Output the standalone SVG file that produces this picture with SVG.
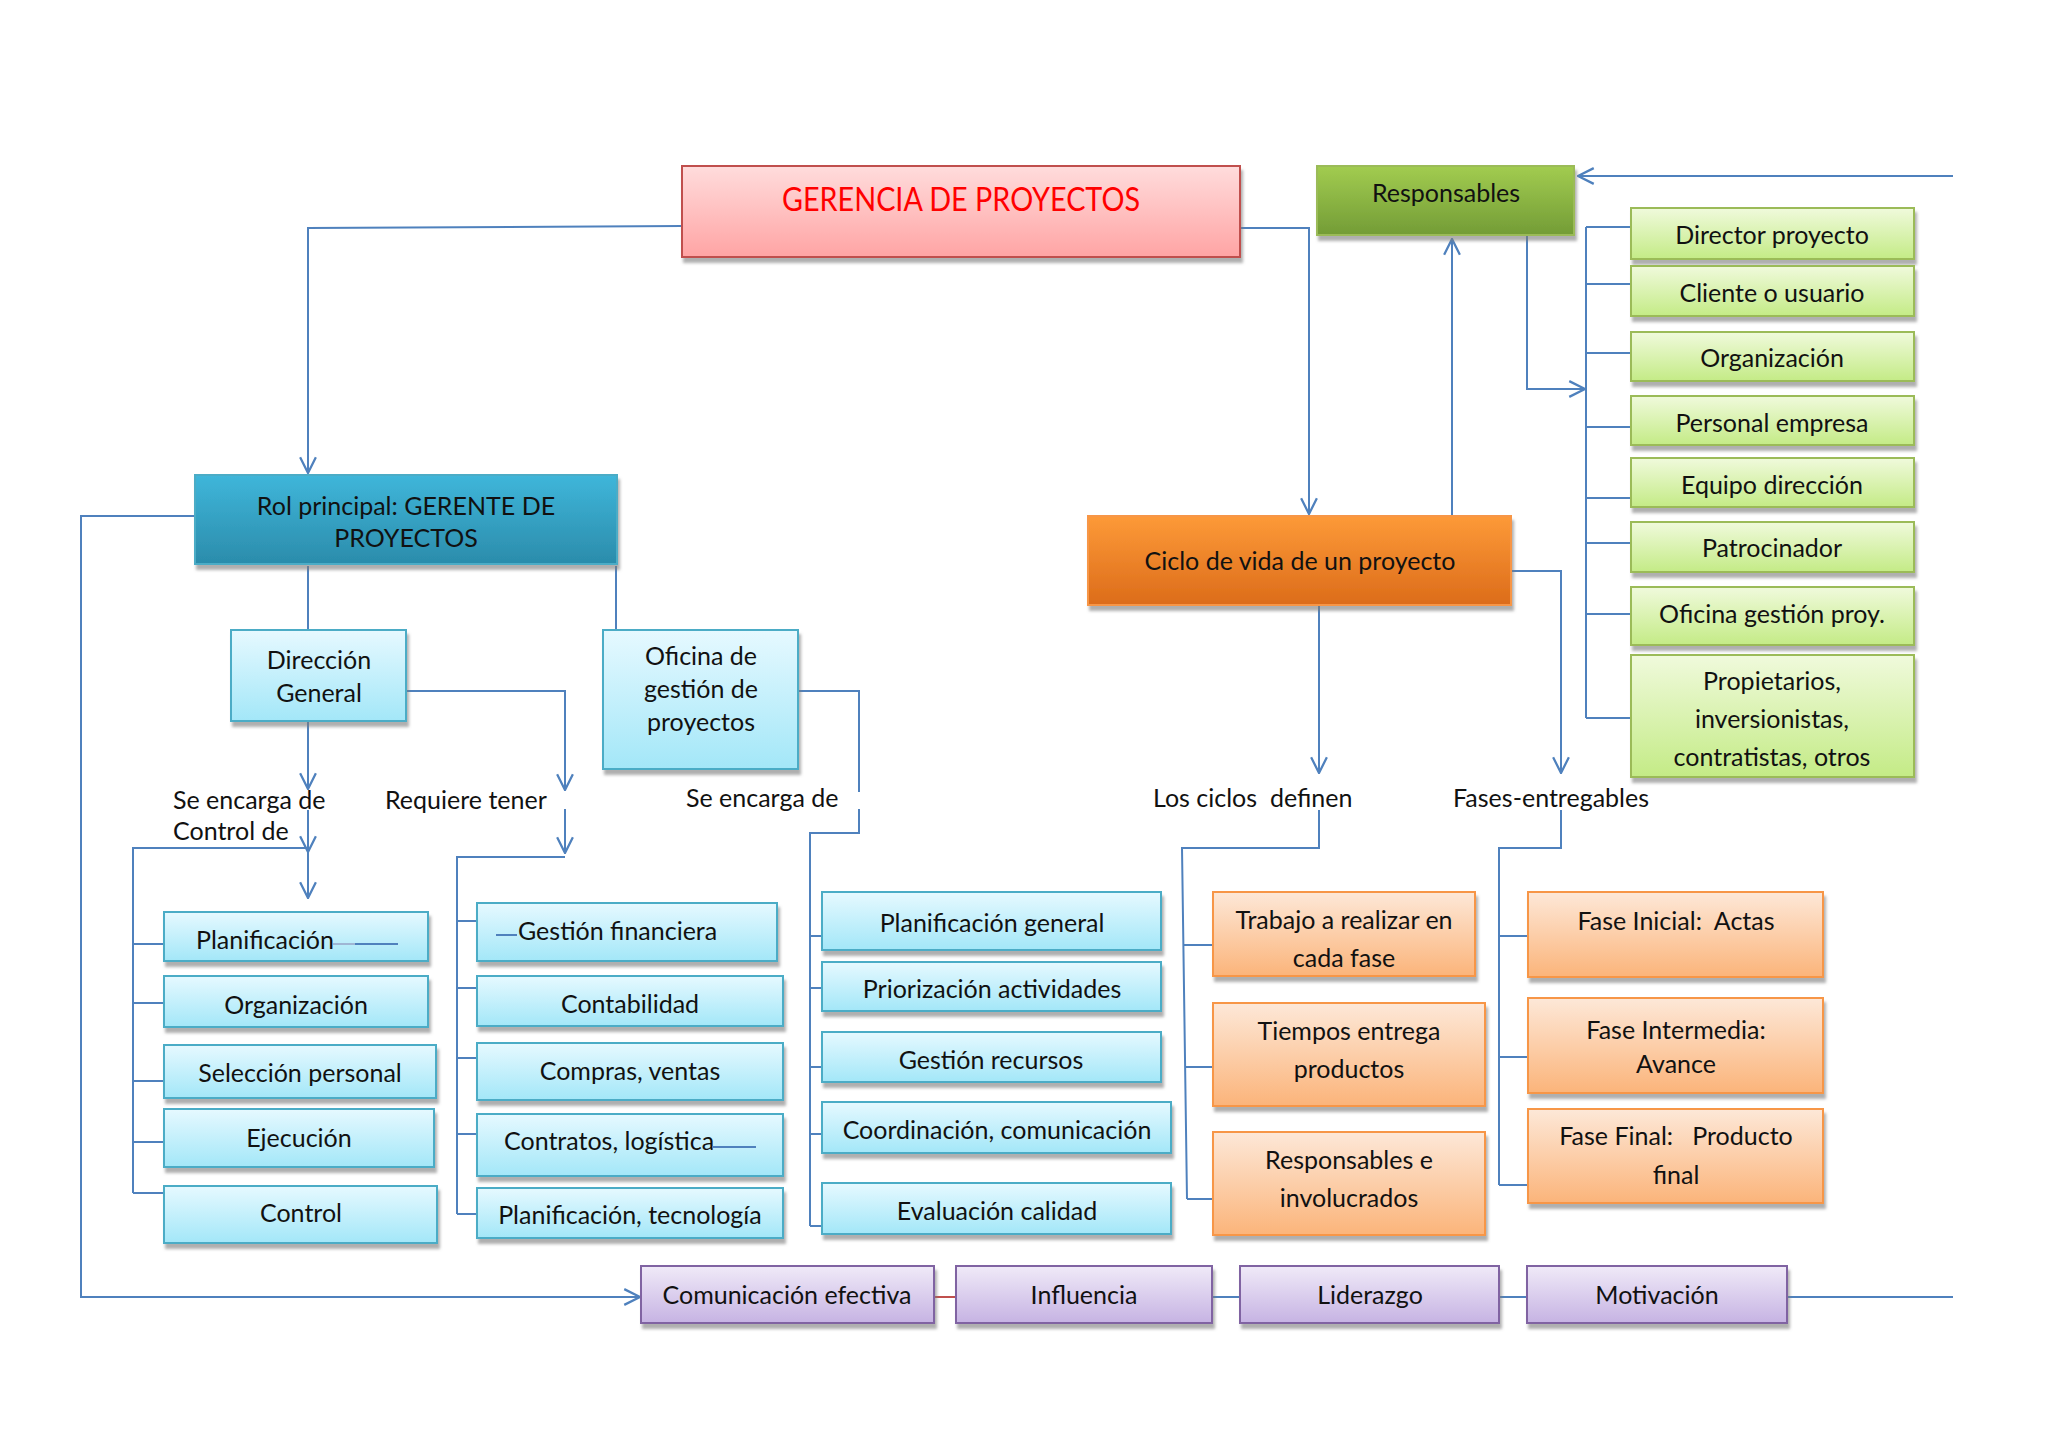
<svg xmlns="http://www.w3.org/2000/svg" width="2048" height="1448" viewBox="0 0 2048 1448">
<defs>
<linearGradient id="gPink" x1="0" y1="0" x2="0" y2="1"><stop offset="0" stop-color="#ffdcdc"/><stop offset="1" stop-color="#ffa4a4"/></linearGradient>
<linearGradient id="gTeal" x1="0" y1="0" x2="0" y2="1"><stop offset="0" stop-color="#3fb6da"/><stop offset="1" stop-color="#2b8cab"/></linearGradient>
<linearGradient id="gCyan" x1="0" y1="0" x2="0" y2="1"><stop offset="0" stop-color="#e6f9ff"/><stop offset="1" stop-color="#a3e7f8"/></linearGradient>
<linearGradient id="gGreenL" x1="0" y1="0" x2="0" y2="1"><stop offset="0" stop-color="#f0fadc"/><stop offset="1" stop-color="#c4eb86"/></linearGradient>
<linearGradient id="gGreenD" x1="0" y1="0" x2="0" y2="1"><stop offset="0" stop-color="#a2cc50"/><stop offset="1" stop-color="#739c36"/></linearGradient>
<linearGradient id="gOrangeD" x1="0" y1="0" x2="0" y2="1"><stop offset="0" stop-color="#fd9a38"/><stop offset="1" stop-color="#dc6c1a"/></linearGradient>
<linearGradient id="gOrangeL" x1="0" y1="0" x2="0" y2="1"><stop offset="0" stop-color="#fde8d8"/><stop offset="1" stop-color="#fbb47a"/></linearGradient>
<linearGradient id="gPurple" x1="0" y1="0" x2="0" y2="1"><stop offset="0" stop-color="#f0eaf8"/><stop offset="1" stop-color="#c6b3e3"/></linearGradient>
<filter id="sh" x="-5%" y="-10%" width="115%" height="140%"><feDropShadow dx="2" dy="5" stdDeviation="1.5" flood-color="#7a7a7a" flood-opacity="0.6"/></filter>
<marker id="ah" viewBox="0 0 16 16" refX="15" refY="8" markerWidth="18" markerHeight="18" markerUnits="userSpaceOnUse" orient="auto"><path d="M1,1 L15,8 L1,15" fill="none" stroke="#4f81bd" stroke-width="2"/></marker>
</defs>
<style>
text{font-family:Lato,"Open Sans","Liberation Sans",sans-serif;font-size:25px;fill:#111;text-anchor:middle;white-space:pre;transform:translateY(2px)}
.l{text-anchor:start}
rect{filter:url(#sh);stroke-width:2}
.pink{fill:url(#gPink);stroke:#c0504d}
.teal{fill:url(#gTeal);stroke:#4bacc6}
.cy{fill:url(#gCyan);stroke:#4bacc6}
.gl{fill:url(#gGreenL);stroke:#9bbb59}
.gd{fill:url(#gGreenD);stroke:#9bbb59}
.od{fill:url(#gOrangeD);stroke:#f79646}
.ol{fill:url(#gOrangeL);stroke:#f79646}
.pu{fill:url(#gPurple);stroke:#8064a2}
.c{fill:none;stroke:#4f81bd;stroke-width:2}
.a{marker-end:url(#ah)}
</style>
<rect width="2048" height="1448" fill="#ffffff" style="filter:none;stroke:none"/>

<g id="connectors">
<path class="c a" d="M682,226 L308,228 L308,473"/>
<path class="c a" d="M1240,228 L1309,228 L1309,514"/>
<path class="c a" d="M1953,176 L1578,176"/>
<path class="c a" d="M1527,235 L1527,389 L1585,389"/>
<path class="c a" d="M1452,516 L1452,239"/>
<path class="c" d="M1586,227 L1586,718"/>
<path class="c" d="M1586,227 H1631 M1586,284 H1631 M1586,353 H1631 M1586,427 H1631 M1586,498 H1631 M1586,543 H1631 M1586,614 H1631 M1586,718 H1631"/>
<path class="c a" d="M195,516 L81,516 L81,1297 L640,1297"/>
<path class="c" d="M308,566 L308,630 M616,566 L616,630"/>
<path class="c a" d="M308,721 L308,789"/>
<path class="c a" d="M308,810 L308,852"/>
<path class="c a" d="M308,852 L308,898"/>
<path class="c" d="M308,848 L133,848 L133,1193"/>
<path class="c" d="M133,944 H164 M133,1003 H164 M133,1081 H164 M133,1142 H164 M133,1193 H164"/>
<path class="c a" d="M406,691 L565,691 L565,790"/>
<path class="c a" d="M565,809 L565,853"/>
<path class="c" d="M565,857 L457,857 L457,1214"/>
<path class="c" d="M457,921 H477 M457,988 H477 M457,1058 H477 M457,1134 H477 M457,1214 H477"/>
<path class="c" d="M798,691 L859,691 L859,792"/>
<path class="c" d="M859,809 L859,833 L810,833 L810,1226"/>
<path class="c" d="M810,936 H822 M810,988 H822 M810,1067 H822 M810,1134 H822 M810,1226 H822"/>
<path class="c a" d="M1319,605 L1319,773"/>
<path class="c" d="M1319,810 L1319,848 L1182,848 L1187,1199"/>
<path class="c" d="M1183,945 H1213 M1185,1067 H1213 M1187,1199 H1213"/>
<path class="c a" d="M1511,571 L1561,571 L1561,773"/>
<path class="c" d="M1561,810 L1561,848 L1499,848 L1499,1185"/>
<path class="c" d="M1499,936 H1528 M1499,1057 H1528 M1499,1185 H1528"/>
<path d="M934,1297 H956" fill="none" stroke="#c0504d" stroke-width="2"/>
<path class="c" d="M1212,1297 H1240 M1499,1297 H1527 M1787,1297 H1953"/>
</g>

<g id="n-gerencia"><rect class="pink" x="682" y="166" width="558" height="91"/><text x="961" y="209" style="fill:#ff0000;font-size:33px" textLength="358" lengthAdjust="spacingAndGlyphs">GERENCIA DE PROYECTOS</text></g>
<g id="n-responsables"><rect class="gd" x="1317" y="166" width="257" height="69"/><text x="1446" y="200">Responsables</text></g>

<g id="n-director"><rect class="gl" x="1631" y="208" width="283" height="51"/><text x="1772" y="242">Director proyecto</text></g>
<g id="n-cliente"><rect class="gl" x="1631" y="266" width="283" height="50"/><text x="1772" y="300">Cliente o usuario</text></g>
<g id="n-organizacion-r"><rect class="gl" x="1631" y="332" width="283" height="49"/><text x="1772" y="365">Organización</text></g>
<g id="n-personal"><rect class="gl" x="1631" y="396" width="283" height="49"/><text x="1772" y="430">Personal empresa</text></g>
<g id="n-equipo"><rect class="gl" x="1631" y="458" width="283" height="49"/><text x="1772" y="492">Equipo dirección</text></g>
<g id="n-patrocinador"><rect class="gl" x="1631" y="522" width="283" height="50"/><text x="1772" y="555">Patrocinador</text></g>
<g id="n-oficina-r"><rect class="gl" x="1631" y="587" width="283" height="58"/><text x="1772" y="621">Oficina gestión proy.</text></g>
<g id="n-propietarios"><rect class="gl" x="1631" y="655" width="283" height="122"/><text x="1772" y="688">Propietarios,</text><text x="1772" y="726">inversionistas,</text><text x="1772" y="764">contratistas, otros</text></g>

<g id="n-rol"><rect class="teal" x="195" y="475" width="422" height="89"/><text x="406" y="513">Rol principal: GERENTE DE</text><text x="406" y="545">PROYECTOS</text></g>
<g id="n-direccion"><rect class="cy" x="231" y="630" width="175" height="91"/><text x="319" y="667">Dirección</text><text x="319" y="700">General</text></g>
<g id="n-oficina"><rect class="cy" x="603" y="630" width="195" height="139"/><text x="701" y="663">Oficina de</text><text x="701" y="696">gestión de</text><text x="701" y="729">proyectos</text></g>
<g id="n-ciclo"><rect class="od" x="1088" y="516" width="423" height="89"/><text x="1300" y="568">Ciclo de vida de un proyecto</text></g>

<g id="labels">
<text class="l" x="173" y="807">Se encarga de</text>
<text class="l" x="173" y="838">Control de</text>
<text class="l" x="385" y="807">Requiere tener</text>
<text class="l" x="686" y="805">Se encarga de</text>
<text class="l" x="1153" y="805">Los ciclos  definen</text>
<text class="l" x="1453" y="805">Fases-entregables</text>
</g>

<g id="n-planificacion"><rect class="cy" x="164" y="912" width="264" height="49"/><text class="l" x="196" y="947">Planificación</text></g>
<g id="n-organizacion"><rect class="cy" x="164" y="976" width="264" height="51"/><text x="296" y="1012">Organización</text></g>
<g id="n-seleccion"><rect class="cy" x="164" y="1045" width="272" height="53"/><text x="300" y="1080">Selección personal</text></g>
<g id="n-ejecucion"><rect class="cy" x="164" y="1109" width="270" height="58"/><text x="299" y="1145">Ejecución</text></g>
<g id="n-control"><rect class="cy" x="164" y="1186" width="273" height="57"/><text x="301" y="1220">Control</text></g>

<g id="n-gestion-fin"><rect class="cy" x="477" y="903" width="300" height="58"/><text class="l" x="518" y="938">Gestión financiera</text></g>
<g id="n-contabilidad"><rect class="cy" x="477" y="976" width="306" height="50"/><text x="630" y="1011">Contabilidad</text></g>
<g id="n-compras"><rect class="cy" x="477" y="1043" width="306" height="57"/><text x="630" y="1078">Compras, ventas</text></g>
<g id="n-contratos"><rect class="cy" x="477" y="1114" width="306" height="62"/><text class="l" x="504" y="1148">Contratos, logística</text></g>
<g id="n-plan-tec"><rect class="cy" x="477" y="1188" width="306" height="50"/><text x="630" y="1222">Planificación, tecnología</text></g>

<g id="n-plan-gen"><rect class="cy" x="822" y="892" width="339" height="58"/><text x="992" y="930">Planificación general</text></g>
<g id="n-priorizacion"><rect class="cy" x="822" y="962" width="339" height="49"/><text x="992" y="996">Priorización actividades</text></g>
<g id="n-gestion-rec"><rect class="cy" x="822" y="1032" width="339" height="50"/><text x="991" y="1067">Gestión recursos</text></g>
<g id="n-coordinacion"><rect class="cy" x="822" y="1102" width="349" height="51"/><text x="997" y="1137">Coordinación, comunicación</text></g>
<g id="n-evaluacion"><rect class="cy" x="822" y="1183" width="349" height="51"/><text x="997" y="1218">Evaluación calidad</text></g>

<g id="n-trabajo"><rect class="ol" x="1213" y="892" width="262" height="84"/><text x="1344" y="927">Trabajo a realizar en</text><text x="1344" y="965">cada fase</text></g>
<g id="n-tiempos"><rect class="ol" x="1213" y="1003" width="272" height="103"/><text x="1349" y="1038">Tiempos entrega</text><text x="1349" y="1076">productos</text></g>
<g id="n-resp-inv"><rect class="ol" x="1213" y="1132" width="272" height="103"/><text x="1349" y="1167">Responsables e</text><text x="1349" y="1205">involucrados</text></g>
<g id="n-fase-ini"><rect class="ol" x="1528" y="892" width="295" height="85"/><text x="1676" y="928">Fase Inicial:  Actas</text></g>
<g id="n-fase-int"><rect class="ol" x="1528" y="998" width="295" height="95"/><text x="1676" y="1037">Fase Intermedia:</text><text x="1676" y="1071">Avance</text></g>
<g id="n-fase-fin"><rect class="ol" x="1528" y="1109" width="295" height="94"/><text x="1676" y="1143">Fase Final:   Producto</text><text x="1676" y="1182">final</text></g>

<g id="n-comunicacion"><rect class="pu" x="641" y="1266" width="293" height="57"/><text x="787" y="1302">Comunicación efectiva</text></g>
<g id="n-influencia"><rect class="pu" x="956" y="1266" width="256" height="57"/><text x="1084" y="1302">Influencia</text></g>
<g id="n-liderazgo"><rect class="pu" x="1240" y="1266" width="259" height="57"/><text x="1370" y="1302">Liderazgo</text></g>
<g id="n-motivacion"><rect class="pu" x="1527" y="1266" width="260" height="57"/><text x="1657" y="1302">Motivación</text></g>

<g id="connector-stubs">
<path d="M333,944 H355" fill="none" stroke="#9fb6d4" stroke-width="2"/>
<path class="c" d="M355,944 H398 M496,935 H517 M712,1147 H756"/>
</g>
</svg>
